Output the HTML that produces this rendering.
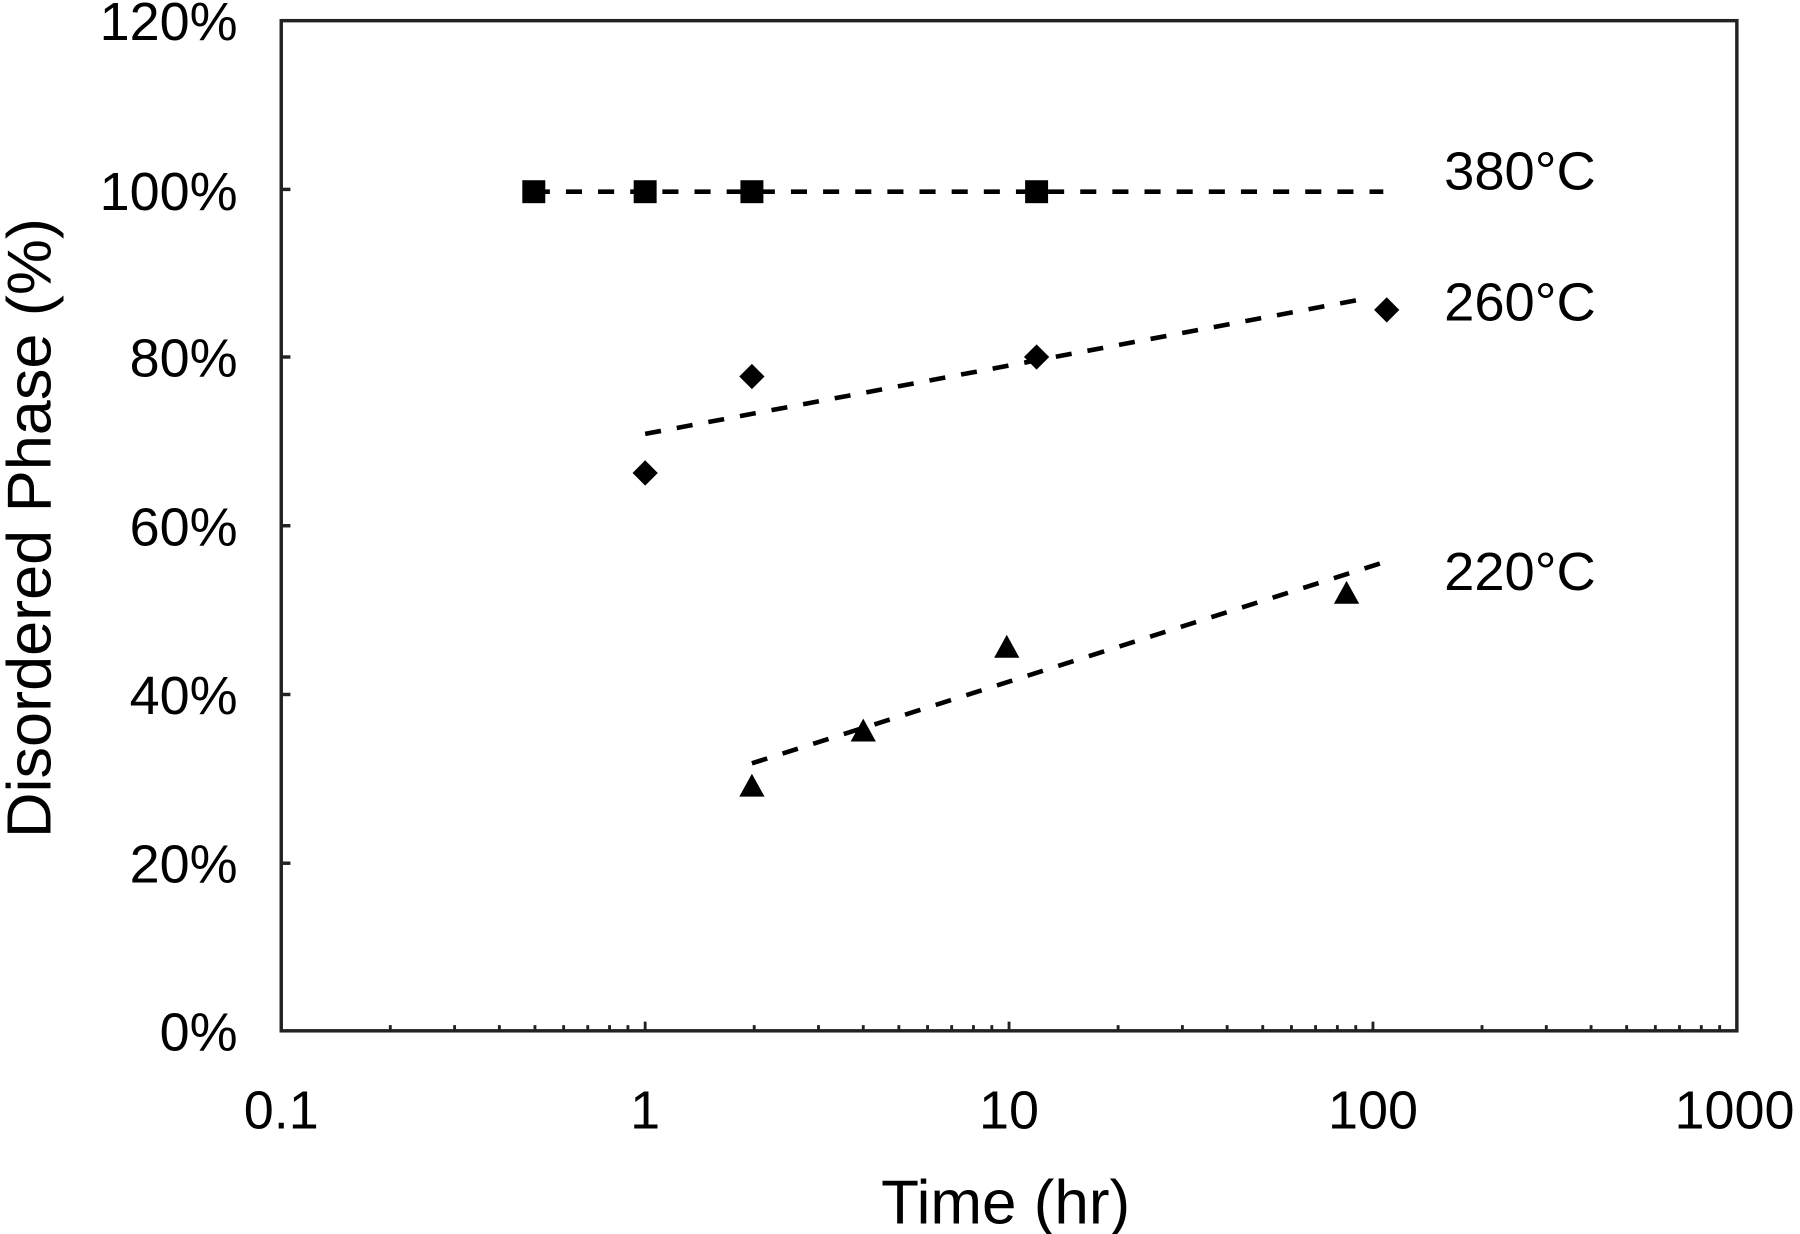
<!DOCTYPE html>
<html><head><style>html,body{margin:0;padding:0;background:#fff;}svg{display:block}</style></head>
<body>
<svg width="1800" height="1234" viewBox="0 0 1568 1075" preserveAspectRatio="none" xmlns="http://www.w3.org/2000/svg" font-family="Liberation Sans, sans-serif" fill="#000">
<rect x="245" y="18" width="1268" height="880" fill="none" stroke="#222" stroke-width="3"/>
<g stroke="#222" stroke-width="3">
<line x1="245" y1="165" x2="253" y2="165"/><line x1="245" y1="311" x2="253" y2="311"/>
<line x1="245" y1="458" x2="253" y2="458"/><line x1="245" y1="605" x2="253" y2="605"/>
<line x1="245" y1="752" x2="253" y2="752"/>
</g>
<g stroke="#222" stroke-width="2.5">
<path d="M340 898v-5M396 898v-5M435 898v-5M466 898v-5M491 898v-5M512 898v-5M531 898v-5M547 898v-5M562 898v-8
M657 898v-5M713 898v-5M752 898v-5M783 898v-5M808 898v-5M829 898v-5M848 898v-5M864 898v-5M879 898v-8
M974 898v-5M1030 898v-5M1069 898v-5M1100 898v-5M1125 898v-5M1146 898v-5M1165 898v-5M1181 898v-5M1196 898v-8
M1291 898v-5M1347 898v-5M1386 898v-5M1417 898v-5M1442 898v-5M1463 898v-5M1482 898v-5M1498 898v-5"/>
</g>
<g font-size="47" text-anchor="end">
<text x="207" y="35">120%</text><text x="207" y="183">100%</text><text x="207" y="328">80%</text>
<text x="207" y="475">60%</text><text x="207" y="622">40%</text><text x="207" y="769">20%</text>
<text x="207" y="915">0%</text>
</g>
<g font-size="47" text-anchor="middle">
<text x="245" y="983">0.1</text><text x="562" y="983">1</text><text x="879" y="983">10</text>
<text x="1196" y="983">100</text><text x="1511" y="983">1000</text>
</g>
<text x="876" y="1066" font-size="54" text-anchor="middle">Time (hr)</text>
<text transform="translate(44 460) rotate(-90)" font-size="54" text-anchor="middle" textLength="540" lengthAdjust="spacingAndGlyphs">Disordered Phase (%)</text>
<g stroke="#000" stroke-width="4" stroke-dasharray="14 14" fill="none">
<line x1="465" y1="167" x2="1205" y2="167"/>
<line x1="562" y1="378" x2="1190" y2="260"/>
<line x1="655" y1="665" x2="1205" y2="490"/>
</g>
<g>
<rect x="455" y="157" width="20" height="20"/><rect x="552" y="157" width="20" height="20"/>
<rect x="645" y="157" width="20" height="20"/><rect x="893" y="157" width="20" height="20"/>
<path d="M562 401l11 11-11 11-11-11z"/><path d="M655 317l11 11-11 11-11-11z"/>
<path d="M903 300l11 11-11 11-11-11z"/><path d="M1208 259l11 11-11 11-11-11z"/>
<path d="M655 674l11 20h-22z"/><path d="M752 626l11 20h-22z"/>
<path d="M877 553l11 20h-22z"/><path d="M1173 506l11 20h-22z"/>
</g>
<g font-size="47">
<text x="1258" y="165" textLength="132" lengthAdjust="spacingAndGlyphs">380°C</text>
<text x="1258" y="279" textLength="132" lengthAdjust="spacingAndGlyphs">260°C</text>
<text x="1258" y="514" textLength="132" lengthAdjust="spacingAndGlyphs">220°C</text>
</g>
</svg>
</body></html>
